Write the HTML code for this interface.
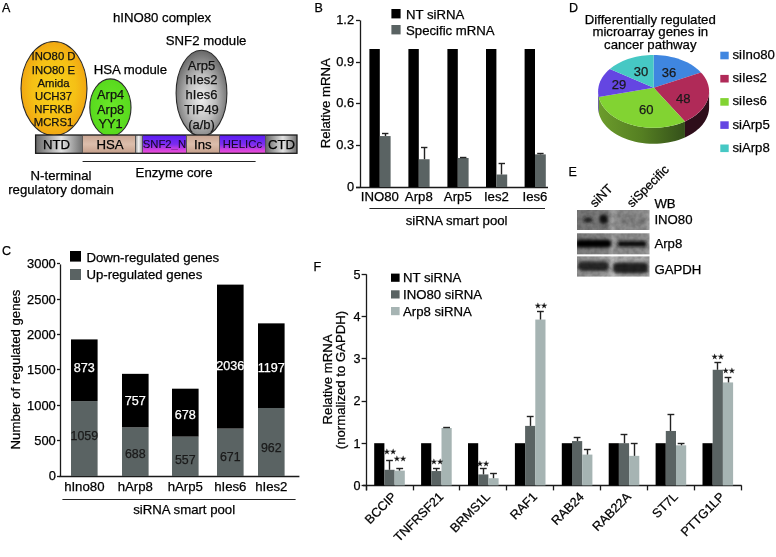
<!DOCTYPE html>
<html><head><meta charset="utf-8"><style>
html,body{margin:0;padding:0;background:#fff;}
svg{display:block;}
</style></head><body>
<svg width="776" height="557" viewBox="0 0 776 557" font-family='"Liberation Sans", sans-serif'>
<defs>
<radialGradient id="gOr" cx="50%" cy="50%" r="55%"><stop offset="0" stop-color="#f7d21c"/><stop offset="0.6" stop-color="#f5c015"/><stop offset="1" stop-color="#f0a012"/></radialGradient>
<radialGradient id="gGr" cx="50%" cy="50%" r="55%"><stop offset="0" stop-color="#6ae828"/><stop offset="1" stop-color="#56d81c"/></radialGradient>
<radialGradient id="gGy" cx="50%" cy="56%" r="56%"><stop offset="0" stop-color="#eeeeee"/><stop offset="0.5" stop-color="#bdbdbd"/><stop offset="1" stop-color="#666"/></radialGradient>
<linearGradient id="gBar" x1="0" y1="0" x2="1" y2="0"><stop offset="0" stop-color="#666"/><stop offset="0.55" stop-color="#e2e2e2"/><stop offset="1" stop-color="#707070"/></linearGradient>
<linearGradient id="gGap" x1="0" y1="0" x2="1" y2="0"><stop offset="0" stop-color="#8a8a8a"/><stop offset="0.5" stop-color="#f4f4f4"/><stop offset="1" stop-color="#9a9a9a"/></linearGradient>
<linearGradient id="gSnf" x1="0" y1="0" x2="0" y2="1"><stop offset="0" stop-color="#5a1cf4"/><stop offset="0.5" stop-color="#7a2cf0"/><stop offset="0.8" stop-color="#d040e0"/><stop offset="1" stop-color="#f052d4"/></linearGradient>
<linearGradient id="gTan" x1="0" y1="0" x2="0" y2="1"><stop offset="0" stop-color="#c9a592"/><stop offset="0.5" stop-color="#dcbeac"/><stop offset="1" stop-color="#c6a08c"/></linearGradient>
<filter id="blur1" x="-20%" y="-50%" width="140%" height="200%"><feGaussianBlur stdDeviation="1.2"/></filter>
<linearGradient id="side2" x1="0" y1="0" x2="1" y2="0"><stop offset="0" stop-color="#6c9c2c"/><stop offset="0.5" stop-color="#557f22"/><stop offset="1" stop-color="#34501a"/></linearGradient>
<filter id="blur2" x="-20%" y="-50%" width="140%" height="200%"><feGaussianBlur stdDeviation="0.8"/></filter>
</defs>
<rect width="776" height="557" fill="#fff"/>
<text x="2" y="12.2" font-size="12.5" text-anchor="start" fill="#000" stroke="#000" stroke-width="0.25" >A</text>
<text x="113" y="21.6" font-size="13.2" text-anchor="start" fill="#000" stroke="#000" stroke-width="0.25" >hINO80 complex</text>
<text x="165.8" y="45" font-size="13.2" text-anchor="start" fill="#000" stroke="#000" stroke-width="0.25" >SNF2 module</text>
<text x="93.8" y="74" font-size="13.2" text-anchor="start" fill="#000" stroke="#000" stroke-width="0.25" >HSA module</text>
<ellipse cx="54" cy="88.5" rx="33" ry="47" fill="url(#gOr)" stroke="#2a2a2a" stroke-width="1.1"/>
<ellipse cx="110.4" cy="107.5" rx="20.6" ry="28.6" fill="url(#gGr)" stroke="#2a2a2a" stroke-width="1.1"/>
<ellipse cx="201.5" cy="93.2" rx="25.4" ry="43" fill="url(#gGy)" stroke="#2a2a2a" stroke-width="1.1"/>
<text x="53.5" y="60.4" font-size="11.3" text-anchor="middle" fill="#111" stroke="#111" stroke-width="0.25" >INO80 D</text>
<text x="53.5" y="73.5" font-size="11.3" text-anchor="middle" fill="#111" stroke="#111" stroke-width="0.25" >INO80 E</text>
<text x="53.5" y="86.6" font-size="11.3" text-anchor="middle" fill="#111" stroke="#111" stroke-width="0.25" >Amida</text>
<text x="53.5" y="99.69999999999999" font-size="11.3" text-anchor="middle" fill="#111" stroke="#111" stroke-width="0.25" >UCH37</text>
<text x="53.5" y="112.8" font-size="11.3" text-anchor="middle" fill="#111" stroke="#111" stroke-width="0.25" >NFRKB</text>
<text x="53.5" y="125.9" font-size="11.3" text-anchor="middle" fill="#111" stroke="#111" stroke-width="0.25" >MCRS1</text>
<text x="110.6" y="99.0" font-size="12.8" text-anchor="middle" fill="#111" stroke="#111" stroke-width="0.25" >Arp4</text>
<text x="110.6" y="113.6" font-size="12.8" text-anchor="middle" fill="#111" stroke="#111" stroke-width="0.25" >Arp8</text>
<text x="110.6" y="128.2" font-size="12.8" text-anchor="middle" fill="#111" stroke="#111" stroke-width="0.25" >YY1</text>
<text x="201.5" y="69.6" font-size="13" text-anchor="middle" fill="#111" stroke="#111" stroke-width="0.25" >Arp5</text>
<text x="201.5" y="84.39999999999999" font-size="13" text-anchor="middle" fill="#111" stroke="#111" stroke-width="0.25" >hIes2</text>
<text x="201.5" y="99.19999999999999" font-size="13" text-anchor="middle" fill="#111" stroke="#111" stroke-width="0.25" >hIes6</text>
<text x="201.5" y="114.0" font-size="13" text-anchor="middle" fill="#111" stroke="#111" stroke-width="0.25" >TIP49</text>
<text x="201.5" y="128.8" font-size="13" text-anchor="middle" fill="#111" stroke="#111" stroke-width="0.25" >(a/b)</text>
<rect x="35.60" y="135.00" width="46.80" height="18.30" fill="url(#gBar)" />
<rect x="82.40" y="135.00" width="52.60" height="18.30" fill="url(#gTan)" />
<rect x="135.00" y="135.00" width="7.40" height="18.30" fill="url(#gGap)" />
<rect x="142.40" y="135.00" width="43.60" height="18.30" fill="url(#gSnf)" />
<rect x="186.00" y="135.00" width="33.60" height="18.30" fill="url(#gTan)" />
<rect x="219.60" y="135.00" width="46.00" height="18.30" fill="url(#gSnf)" />
<rect x="265.60" y="135.00" width="31.40" height="18.30" fill="url(#gBar)" />
<rect x="35.6" y="135" width="261.4" height="18.30000000000001" fill="none" stroke="#1a1a1a" stroke-width="1.3"/>
<line x1="82.50" y1="135.00" x2="82.50" y2="153.30" stroke="#444" stroke-width="0.8"/>
<line x1="135.50" y1="135.00" x2="135.50" y2="153.30" stroke="#444" stroke-width="0.8"/>
<line x1="142.50" y1="135.00" x2="142.50" y2="153.30" stroke="#444" stroke-width="0.8"/>
<line x1="186.50" y1="135.00" x2="186.50" y2="153.30" stroke="#444" stroke-width="0.8"/>
<line x1="219.50" y1="135.00" x2="219.50" y2="153.30" stroke="#444" stroke-width="0.8"/>
<line x1="265.50" y1="135.00" x2="265.50" y2="153.30" stroke="#444" stroke-width="0.8"/>
<text x="56.6" y="149" font-size="13.2" text-anchor="middle" fill="#000" stroke="#000" stroke-width="0.25" >NTD</text>
<text x="110" y="149" font-size="13.2" text-anchor="middle" fill="#000" stroke="#000" stroke-width="0.25" >HSA</text>
<text x="164.4" y="147.6" font-size="11.3" text-anchor="middle" fill="#180828" stroke="#180828" stroke-width="0.1" >SNF2<tspan fill-opacity="0.25" stroke-opacity="0.25">_</tspan>N</text>
<text x="202.8" y="149" font-size="13.2" text-anchor="middle" fill="#000" stroke="#000" stroke-width="0.25" >Ins</text>
<text x="242.6" y="147.6" font-size="11.3" text-anchor="middle" fill="#180828" stroke="#180828" stroke-width="0.1" letter-spacing="0.1">HELICc</text>
<text x="281.5" y="149" font-size="13.2" text-anchor="middle" fill="#000" stroke="#000" stroke-width="0.25" >CTD</text>
<line x1="82.60" y1="161.50" x2="255.60" y2="161.50" stroke="#222" stroke-width="1.1"/>
<text x="61" y="179.6" font-size="13.2" text-anchor="middle" fill="#000" stroke="#000" stroke-width="0.25" >N-terminal</text>
<text x="61" y="193.6" font-size="13.2" text-anchor="middle" fill="#000" stroke="#000" stroke-width="0.25" >regulatory domain</text>
<text x="135.6" y="177" font-size="13.2" text-anchor="start" fill="#000" stroke="#000" stroke-width="0.25" >Enzyme core</text>
<text x="314.6" y="11.7" font-size="12.5" text-anchor="start" fill="#000" stroke="#000" stroke-width="0.25" >B</text>
<line x1="360.50" y1="20.40" x2="360.50" y2="187.60" stroke="#1a1a1a" stroke-width="1.3"/>
<line x1="356.00" y1="187.50" x2="548.00" y2="187.50" stroke="#1a1a1a" stroke-width="1.3"/>
<line x1="356.00" y1="20.50" x2="360.00" y2="20.50" stroke="#1a1a1a" stroke-width="1.3"/>
<text x="354" y="24.139999999999997" font-size="12.8" text-anchor="end" fill="#000" stroke="#000" stroke-width="0.25" >1.2</text>
<line x1="356.00" y1="62.50" x2="360.00" y2="62.50" stroke="#1a1a1a" stroke-width="1.3"/>
<text x="354" y="65.77999999999999" font-size="12.8" text-anchor="end" fill="#000" stroke="#000" stroke-width="0.25" >0.9</text>
<line x1="356.00" y1="103.50" x2="360.00" y2="103.50" stroke="#1a1a1a" stroke-width="1.3"/>
<text x="354" y="107.42" font-size="12.8" text-anchor="end" fill="#000" stroke="#000" stroke-width="0.25" >0.6</text>
<line x1="356.00" y1="145.50" x2="360.00" y2="145.50" stroke="#1a1a1a" stroke-width="1.3"/>
<text x="354" y="149.06" font-size="12.8" text-anchor="end" fill="#000" stroke="#000" stroke-width="0.25" >0.3</text>
<line x1="356.00" y1="187.50" x2="360.00" y2="187.50" stroke="#1a1a1a" stroke-width="1.3"/>
<text x="354" y="190.7" font-size="12.8" text-anchor="end" fill="#000" stroke="#000" stroke-width="0.25" >0</text>
<rect x="391.40" y="9.00" width="9.20" height="9.40" fill="#000" />
<text x="406" y="19" font-size="13.2" text-anchor="start" fill="#000" stroke="#000" stroke-width="0.25" >NT siRNA</text>
<rect x="391.40" y="25.00" width="9.20" height="9.40" fill="#5a6363" />
<text x="406" y="35" font-size="13.2" text-anchor="start" fill="#000" stroke="#000" stroke-width="0.25" >Specific mRNA</text>
<rect x="369.40" y="49.00" width="10.40" height="138.00" fill="#000" />
<rect x="379.80" y="136.06" width="10.80" height="50.94" fill="#5a6363" />
<line x1="385.50" y1="136.06" x2="385.50" y2="133.56" stroke="#222" stroke-width="1.4"/>
<line x1="382.00" y1="133.50" x2="388.40" y2="133.50" stroke="#222" stroke-width="1.4"/>
<text x="379.79999999999995" y="201" font-size="13.2" text-anchor="middle" fill="#000" stroke="#000" stroke-width="0.25" >INO80</text>
<rect x="408.40" y="49.00" width="10.40" height="138.00" fill="#000" />
<rect x="418.80" y="159.24" width="10.80" height="27.76" fill="#5a6363" />
<line x1="424.50" y1="159.24" x2="424.50" y2="148.00" stroke="#222" stroke-width="1.4"/>
<line x1="421.00" y1="147.50" x2="427.40" y2="147.50" stroke="#222" stroke-width="1.4"/>
<text x="418.79999999999995" y="201" font-size="13.2" text-anchor="middle" fill="#000" stroke="#000" stroke-width="0.25" >Arp8</text>
<rect x="447.40" y="49.00" width="10.40" height="138.00" fill="#000" />
<rect x="457.80" y="157.99" width="10.80" height="29.01" fill="#5a6363" />
<line x1="463.50" y1="157.99" x2="463.50" y2="157.44" stroke="#222" stroke-width="1.4"/>
<line x1="460.00" y1="157.50" x2="466.40" y2="157.50" stroke="#222" stroke-width="1.4"/>
<text x="457.79999999999995" y="201" font-size="13.2" text-anchor="middle" fill="#000" stroke="#000" stroke-width="0.25" >Arp5</text>
<rect x="486.00" y="49.00" width="10.40" height="138.00" fill="#000" />
<rect x="496.40" y="174.51" width="10.80" height="12.49" fill="#5a6363" />
<line x1="501.50" y1="174.51" x2="501.50" y2="163.96" stroke="#222" stroke-width="1.4"/>
<line x1="498.60" y1="163.50" x2="505.00" y2="163.50" stroke="#222" stroke-width="1.4"/>
<text x="496.4" y="201" font-size="13.2" text-anchor="middle" fill="#000" stroke="#000" stroke-width="0.25" >Ies2</text>
<rect x="524.60" y="49.00" width="10.40" height="138.00" fill="#000" />
<rect x="535.00" y="154.38" width="10.80" height="32.62" fill="#5a6363" />
<line x1="540.50" y1="154.38" x2="540.50" y2="153.69" stroke="#222" stroke-width="1.4"/>
<line x1="537.20" y1="153.50" x2="543.60" y2="153.50" stroke="#222" stroke-width="1.4"/>
<text x="535.0" y="201" font-size="13.2" text-anchor="middle" fill="#000" stroke="#000" stroke-width="0.25" >Ies6</text>
<line x1="369.40" y1="208.50" x2="545.00" y2="208.50" stroke="#222" stroke-width="1.1"/>
<text x="456.6" y="224.8" font-size="13.2" text-anchor="middle" fill="#000" stroke="#000" stroke-width="0.25" >siRNA smart pool</text>
<text x="0" y="0" font-size="13.2" text-anchor="middle" fill="#000" stroke="#000" stroke-width="0.25" transform="translate(330.2,103.2) rotate(-90)">Relative mRNA</text>
<text x="2" y="254.5" font-size="12.5" text-anchor="start" fill="#000" stroke="#000" stroke-width="0.25" >C</text>
<line x1="60.50" y1="264.40" x2="60.50" y2="476.60" stroke="#1a1a1a" stroke-width="1.3"/>
<line x1="59.40" y1="476.50" x2="299.40" y2="476.50" stroke="#1a1a1a" stroke-width="1.3"/>
<line x1="57.00" y1="476.50" x2="60.00" y2="476.50" stroke="#1a1a1a" stroke-width="1.3"/>
<text x="55.8" y="480.3" font-size="12.9" text-anchor="end" fill="#000" stroke="#000" stroke-width="0.25" >0</text>
<line x1="57.00" y1="440.50" x2="60.00" y2="440.50" stroke="#1a1a1a" stroke-width="1.3"/>
<text x="55.8" y="444.95" font-size="12.9" text-anchor="end" fill="#000" stroke="#000" stroke-width="0.25" >500</text>
<line x1="57.00" y1="405.50" x2="60.00" y2="405.50" stroke="#1a1a1a" stroke-width="1.3"/>
<text x="55.8" y="409.59999999999997" font-size="12.9" text-anchor="end" fill="#000" stroke="#000" stroke-width="0.25" >1000</text>
<line x1="57.00" y1="369.50" x2="60.00" y2="369.50" stroke="#1a1a1a" stroke-width="1.3"/>
<text x="55.8" y="374.25" font-size="12.9" text-anchor="end" fill="#000" stroke="#000" stroke-width="0.25" >1500</text>
<line x1="57.00" y1="334.50" x2="60.00" y2="334.50" stroke="#1a1a1a" stroke-width="1.3"/>
<text x="55.8" y="338.9" font-size="12.9" text-anchor="end" fill="#000" stroke="#000" stroke-width="0.25" >2000</text>
<line x1="57.00" y1="299.50" x2="60.00" y2="299.50" stroke="#1a1a1a" stroke-width="1.3"/>
<text x="55.8" y="303.55" font-size="12.9" text-anchor="end" fill="#000" stroke="#000" stroke-width="0.25" >2500</text>
<line x1="57.00" y1="263.50" x2="60.00" y2="263.50" stroke="#1a1a1a" stroke-width="1.3"/>
<text x="55.8" y="268.2" font-size="12.9" text-anchor="end" fill="#000" stroke="#000" stroke-width="0.25" >3000</text>
<rect x="70.00" y="251.00" width="11.00" height="10.60" fill="#000" />
<text x="86.4" y="261.6" font-size="13.2" text-anchor="start" fill="#000" stroke="#000" stroke-width="0.25" >Down-regulated genes</text>
<rect x="70.00" y="269.00" width="11.00" height="11.00" fill="#5a6363" />
<text x="86.4" y="279" font-size="13.2" text-anchor="start" fill="#000" stroke="#000" stroke-width="0.25" >Up-regulated genes</text>
<rect x="71.00" y="401.13" width="26.60" height="74.87" fill="#5a6363" />
<rect x="71.00" y="339.41" width="26.60" height="61.72" fill="#000" />
<text x="84.3" y="440" font-size="12.4" text-anchor="middle" fill="#1a1a1a" stroke="#1a1a1a" stroke-width="0.25" >1059</text>
<text x="84.3" y="372" font-size="12.6" text-anchor="middle" fill="#fff" stroke="#fff" stroke-width="0.25" >873</text>
<text x="84.3" y="491" font-size="13.2" text-anchor="middle" fill="#000" stroke="#000" stroke-width="0.25" >hIno80</text>
<rect x="122.00" y="427.36" width="26.60" height="48.64" fill="#5a6363" />
<rect x="122.00" y="373.84" width="26.60" height="53.52" fill="#000" />
<text x="135.3" y="458.4" font-size="12.4" text-anchor="middle" fill="#1a1a1a" stroke="#1a1a1a" stroke-width="0.25" >688</text>
<text x="135.3" y="405" font-size="12.6" text-anchor="middle" fill="#fff" stroke="#fff" stroke-width="0.25" >757</text>
<text x="135.3" y="491" font-size="13.2" text-anchor="middle" fill="#000" stroke="#000" stroke-width="0.25" >hArp8</text>
<rect x="172.00" y="436.62" width="26.60" height="39.38" fill="#5a6363" />
<rect x="172.00" y="388.69" width="26.60" height="47.93" fill="#000" />
<text x="185.3" y="463.6" font-size="12.4" text-anchor="middle" fill="#1a1a1a" stroke="#1a1a1a" stroke-width="0.25" >557</text>
<text x="185.3" y="418.6" font-size="12.6" text-anchor="middle" fill="#fff" stroke="#fff" stroke-width="0.25" >678</text>
<text x="185.3" y="491" font-size="13.2" text-anchor="middle" fill="#000" stroke="#000" stroke-width="0.25" >hArp5</text>
<rect x="217.00" y="428.56" width="26.60" height="47.44" fill="#5a6363" />
<rect x="217.00" y="284.62" width="26.60" height="143.95" fill="#000" />
<text x="230.3" y="461" font-size="12.4" text-anchor="middle" fill="#1a1a1a" stroke="#1a1a1a" stroke-width="0.25" >671</text>
<text x="230.3" y="369.6" font-size="12.6" text-anchor="middle" fill="#fff" stroke="#fff" stroke-width="0.25" >2036</text>
<text x="230.3" y="491" font-size="13.2" text-anchor="middle" fill="#000" stroke="#000" stroke-width="0.25" >hIes6</text>
<rect x="258.00" y="407.99" width="26.60" height="68.01" fill="#5a6363" />
<rect x="258.00" y="323.36" width="26.60" height="84.63" fill="#000" />
<text x="271.3" y="452.4" font-size="12.4" text-anchor="middle" fill="#1a1a1a" stroke="#1a1a1a" stroke-width="0.25" >962</text>
<text x="271.3" y="371.6" font-size="12.6" text-anchor="middle" fill="#fff" stroke="#fff" stroke-width="0.25" >1197</text>
<text x="271.3" y="491" font-size="13.2" text-anchor="middle" fill="#000" stroke="#000" stroke-width="0.25" >hIes2</text>
<line x1="62.40" y1="499.50" x2="295.60" y2="499.50" stroke="#222" stroke-width="1.1"/>
<text x="184.2" y="514" font-size="13.2" text-anchor="middle" fill="#000" stroke="#000" stroke-width="0.25" >siRNA smart pool</text>
<text x="0" y="0" font-size="13.2" text-anchor="middle" fill="#000" stroke="#000" stroke-width="0.25" transform="translate(20,369.5) rotate(-90)">Number of regulated genes</text>
<text x="569" y="11.7" font-size="12.5" text-anchor="start" fill="#000" stroke="#000" stroke-width="0.25" >D</text>
<text x="650.3" y="23.5" font-size="13.2" text-anchor="middle" fill="#000" stroke="#000" stroke-width="0.25" >Differentially regulated</text>
<text x="650.3" y="36.2" font-size="13.2" text-anchor="middle" fill="#000" stroke="#000" stroke-width="0.25" >microarray genes in</text>
<text x="650.3" y="48.8" font-size="13.2" text-anchor="middle" fill="#000" stroke="#000" stroke-width="0.25" >cancer pathway</text>
<path d="M709.10,91.40 L709.07,92.58 L708.98,93.75 L708.84,94.93 L708.64,96.10 L708.38,97.26 L708.06,98.42 L707.68,99.57 L707.25,100.71 L706.76,101.85 L706.22,102.97 L705.62,104.08 L704.97,105.18 L704.26,106.26 L703.51,107.33 L702.69,108.38 L701.83,109.41 L700.92,110.42 L699.96,111.42 L698.94,112.39 L697.89,113.34 L696.78,114.27 L695.63,115.17 L694.44,116.05 L693.20,116.90 L691.92,117.73 L690.60,118.53 L689.25,119.30 L687.85,120.04 L686.42,120.75 L684.96,121.43 L684.96,137.43 L686.42,136.75 L687.85,136.04 L689.25,135.30 L690.60,134.53 L691.92,133.73 L693.20,132.90 L694.44,132.05 L695.63,131.17 L696.78,130.27 L697.89,129.34 L698.94,128.39 L699.96,127.42 L700.92,126.42 L701.83,125.41 L702.69,124.38 L703.51,123.33 L704.26,122.26 L704.97,121.18 L705.62,120.08 L706.22,118.97 L706.76,117.85 L707.25,116.71 L707.68,115.57 L708.06,114.42 L708.38,113.26 L708.64,112.10 L708.84,110.93 L708.98,109.75 L709.07,108.58 L709.10,107.40Z" fill="#2e0e1a"/>
<path d="M684.96,121.43 L681.81,122.75 L678.54,123.92 L675.16,124.94 L671.68,125.81 L668.12,126.53 L664.49,127.09 L660.82,127.49 L657.11,127.73 L653.39,127.80 L649.66,127.71 L645.96,127.45 L642.29,127.04 L638.67,126.46 L635.12,125.72 L631.65,124.83 L628.28,123.79 L625.02,122.60 L621.89,121.28 L618.91,119.81 L616.08,118.22 L613.42,116.51 L610.94,114.69 L608.66,112.76 L606.57,110.73 L604.70,108.62 L603.05,106.43 L601.63,104.17 L600.44,101.86 L599.49,99.49 L598.78,97.09 L598.78,113.09 L599.49,115.49 L600.44,117.86 L601.63,120.17 L603.05,122.43 L604.70,124.62 L606.57,126.73 L608.66,128.76 L610.94,130.69 L613.42,132.51 L616.08,134.22 L618.91,135.81 L621.89,137.28 L625.02,138.60 L628.28,139.79 L631.65,140.83 L635.12,141.72 L638.67,142.46 L642.29,143.04 L645.96,143.45 L649.66,143.71 L653.39,143.80 L657.11,143.73 L660.82,143.49 L664.49,143.09 L668.12,142.53 L671.68,141.81 L675.16,140.94 L678.54,139.92 L681.81,138.75 L684.96,137.43Z" fill="url(#side2)"/>
<path d="M598.78,97.09 L598.74,96.91 L598.70,96.72 L598.65,96.53 L598.61,96.34 L598.57,96.15 L598.54,95.96 L598.50,95.77 L598.47,95.58 L598.44,95.39 L598.40,95.20 L598.37,95.02 L598.35,94.83 L598.32,94.64 L598.29,94.45 L598.27,94.26 L598.25,94.07 L598.23,93.88 L598.21,93.69 L598.19,93.50 L598.18,93.31 L598.16,93.11 L598.15,92.92 L598.14,92.73 L598.13,92.54 L598.12,92.35 L598.11,92.16 L598.11,91.97 L598.10,91.78 L598.10,91.59 L598.10,91.40 L598.10,107.40 L598.10,107.59 L598.10,107.78 L598.11,107.97 L598.11,108.16 L598.12,108.35 L598.13,108.54 L598.14,108.73 L598.15,108.92 L598.16,109.11 L598.18,109.31 L598.19,109.50 L598.21,109.69 L598.23,109.88 L598.25,110.07 L598.27,110.26 L598.29,110.45 L598.32,110.64 L598.35,110.83 L598.37,111.02 L598.40,111.20 L598.44,111.39 L598.47,111.58 L598.50,111.77 L598.54,111.96 L598.57,112.15 L598.61,112.34 L598.65,112.53 L598.70,112.72 L598.74,112.91 L598.78,113.09Z" fill="#3a2a8a"/>
<path d="M653.7,87.8 L653.60,55.00 L656.58,55.05 L659.55,55.21 L662.51,55.47 L665.44,55.84 L668.33,56.31 L671.19,56.88 L673.99,57.55 L676.73,58.31 L679.41,59.17 L682.01,60.13 L684.53,61.18 L686.96,62.31 L689.29,63.53 L691.53,64.82 L693.65,66.20 L695.65,67.65 L697.54,69.16 L699.30,70.74 L700.92,72.38Z" fill="#3f86e0"/>
<path d="M653.7,87.8 L700.92,72.38 L702.38,74.03 L703.70,75.73 L704.88,77.48 L705.92,79.26 L706.82,81.07 L707.57,82.92 L708.17,84.78 L708.63,86.67 L708.93,88.56 L709.08,90.47 L709.08,92.38 L708.93,94.28 L708.62,96.18 L708.16,98.06 L707.55,99.93 L706.80,101.77 L705.90,103.59 L704.85,105.37 L703.67,107.11 L702.34,108.81 L700.88,110.46 L699.30,112.06 L697.58,113.60 L695.75,115.08 L693.80,116.50 L691.74,117.84 L689.58,119.12 L687.31,120.32 L684.96,121.43Z" fill="#b02a58"/>
<path d="M653.7,87.8 L684.96,121.43 L682.49,122.48 L679.93,123.44 L677.31,124.31 L674.62,125.09 L671.87,125.77 L669.06,126.36 L666.22,126.85 L663.34,127.24 L660.43,127.52 L657.50,127.71 L654.56,127.79 L651.62,127.78 L648.69,127.66 L645.76,127.44 L642.87,127.11 L640.00,126.69 L637.16,126.17 L634.38,125.55 L631.65,124.83 L628.98,124.02 L626.38,123.12 L623.85,122.13 L621.41,121.05 L619.06,119.89 L616.81,118.65 L614.66,117.34 L612.62,115.95 L610.69,114.49 L608.89,112.97 L607.21,111.38 L605.66,109.74 L604.25,108.05 L602.97,106.31 L601.84,104.53 L600.85,102.71 L600.01,100.87 L599.32,98.99 L598.78,97.09Z" fill="#82d332"/>
<path d="M653.7,87.8 L598.78,97.09 L598.39,95.12 L598.16,93.14 L598.10,91.15 L598.21,89.16 L598.48,87.17 L598.91,85.20 L599.51,83.25 L600.27,81.33 L601.19,79.43 L602.26,77.57 L603.49,75.75 L604.87,73.98 L606.40,72.25 L608.06,70.59 L609.87,68.99Z" fill="#6446e2"/>
<path d="M653.7,87.8 L609.87,68.99 L611.75,67.49 L613.76,66.06 L615.87,64.70 L618.10,63.42 L620.43,62.22 L622.85,61.10 L625.36,60.07 L627.95,59.12 L630.61,58.27 L633.34,57.51 L636.12,56.85 L638.96,56.29 L641.84,55.83 L644.75,55.47 L647.69,55.21 L650.64,55.05 L653.60,55.00Z" fill="#46c8c4"/>
<text x="641" y="75.5" font-size="13" text-anchor="middle" fill="#1a1a1a" stroke="#1a1a1a" stroke-width="0.25" >30</text>
<text x="669" y="77.0" font-size="13" text-anchor="middle" fill="#1a1a1a" stroke="#1a1a1a" stroke-width="0.25" >36</text>
<text x="619" y="88.5" font-size="13" text-anchor="middle" fill="#1a1a1a" stroke="#1a1a1a" stroke-width="0.25" >29</text>
<text x="683.2" y="103.0" font-size="13" text-anchor="middle" fill="#1a1a1a" stroke="#1a1a1a" stroke-width="0.25" >48</text>
<text x="646.3" y="113.7" font-size="13" text-anchor="middle" fill="#1a1a1a" stroke="#1a1a1a" stroke-width="0.25" >60</text>
<rect x="720.30" y="51.70" width="8.40" height="7.60" fill="#3f86e0" />
<text x="732.4" y="58.9" font-size="13.2" text-anchor="start" fill="#000" stroke="#000" stroke-width="0.25" >siIno80</text>
<rect x="720.30" y="74.90" width="8.40" height="7.60" fill="#b02a58" />
<text x="732.4" y="82.1" font-size="13.2" text-anchor="start" fill="#000" stroke="#000" stroke-width="0.25" >siIes2</text>
<rect x="720.30" y="98.10" width="8.40" height="7.60" fill="#82d332" />
<text x="732.4" y="105.3" font-size="13.2" text-anchor="start" fill="#000" stroke="#000" stroke-width="0.25" >siIes6</text>
<rect x="720.30" y="121.30" width="8.40" height="7.60" fill="#6446e2" />
<text x="732.4" y="128.5" font-size="13.2" text-anchor="start" fill="#000" stroke="#000" stroke-width="0.25" >siArp5</text>
<rect x="720.30" y="144.50" width="8.40" height="7.60" fill="#46c8c4" />
<text x="732.4" y="151.7" font-size="13.2" text-anchor="start" fill="#000" stroke="#000" stroke-width="0.25" >siArp8</text>
<text x="568.4" y="175.6" font-size="12.5" text-anchor="start" fill="#000" stroke="#000" stroke-width="0.25" >E</text>
<filter id="bb" x="-50%" y="-80%" width="200%" height="260%"><feGaussianBlur stdDeviation="1.5"/></filter>
<filter id="bb2" x="-50%" y="-80%" width="200%" height="260%"><feGaussianBlur stdDeviation="2.2"/></filter>
<filter id="noise" x="0" y="0" width="100%" height="100%"><feTurbulence type="fractalNoise" baseFrequency="0.22" numOctaves="2" seed="7" result="t"/><feColorMatrix type="matrix" values="0 0 0 0 0  0 0 0 0 0  0 0 0 0 0  0 0 0 -1.6 1.1"/><feComposite in2="SourceGraphic" operator="in"/></filter>
<linearGradient id="blg" x1="0" y1="0" x2="1" y2="0"><stop offset="0" stop-color="#7c7c7c"/><stop offset="0.42" stop-color="#858585"/><stop offset="0.49" stop-color="#a2a2a2"/><stop offset="0.56" stop-color="#8e8e8e"/><stop offset="0.93" stop-color="#8e8e8e"/><stop offset="1" stop-color="#a6a6a6"/></linearGradient>
<linearGradient id="blg3" x1="0" y1="0" x2="1" y2="0"><stop offset="0" stop-color="#929292"/><stop offset="0.44" stop-color="#a4a4a4"/><stop offset="0.5" stop-color="#bcbcbc"/><stop offset="0.56" stop-color="#aaaaaa"/><stop offset="1" stop-color="#a8a8a8"/></linearGradient>
<clipPath id="c1"><rect x="577" y="210" width="72.5" height="20"/></clipPath>
<clipPath id="c2"><rect x="577" y="233.3" width="72.5" height="21"/></clipPath>
<clipPath id="c3"><rect x="577" y="256.4" width="72.5" height="20.2"/></clipPath>
<rect x="577" y="210" width="72.5" height="20" fill="url(#blg)"/>
<g clip-path="url(#c1)">
<rect x="577" y="210" width="33" height="20" fill="#6a6a6a" opacity="0.35" filter="url(#bb2)"/>
<ellipse cx="588" cy="220" rx="4.2" ry="2.4" fill="#1e1e1e" filter="url(#bb)"/>
<ellipse cx="603.6" cy="219.3" rx="3.9" ry="4.3" fill="#050505" filter="url(#bb)"/>
<ellipse cx="603.5" cy="222" rx="2.2" ry="9" fill="#3a3a3a" filter="url(#bb2)" opacity="0.5"/>
<ellipse cx="624" cy="221" rx="3.5" ry="2.4" fill="#555" filter="url(#bb)" opacity="0.55"/>
<ellipse cx="632" cy="220" rx="3" ry="2.4" fill="#555" filter="url(#bb)" opacity="0.45"/>
<ellipse cx="641" cy="221" rx="3.5" ry="2.4" fill="#555" filter="url(#bb)" opacity="0.55"/>
</g>
<rect x="577" y="233.3" width="72.5" height="21" fill="url(#blg)"/>
<g clip-path="url(#c2)">
<rect x="576" y="239.8" width="35" height="7.6" rx="3.5" fill="#050505" filter="url(#bb)"/>
<rect x="617.5" y="241" width="29" height="5.8" rx="2.9" fill="#111" filter="url(#bb)"/>
</g>
<rect x="577" y="256.4" width="72.5" height="20.2" fill="url(#blg3)"/>
<g clip-path="url(#c3)">
<rect x="578" y="261.5" width="31" height="9.4" rx="4.5" fill="#262626" filter="url(#bb)"/>
<path d="M613,265 Q613,262.5 620,262.5 L644,262.5 Q648,262.5 648,267 L648,270 Q648,273.5 640,273.5 L622,273.5 Q613,273.5 613,270 Z" fill="#242424" filter="url(#bb)"/>
</g>
<g opacity="0.2"><rect x="577" y="210" width="72.5" height="20" fill="#000" filter="url(#noise)"/><rect x="577" y="233.3" width="72.5" height="21" fill="#000" filter="url(#noise)"/><rect x="577" y="256.4" width="72.5" height="20.2" fill="#000" filter="url(#noise)"/></g>
<text x="654.4" y="208" font-size="13.2" text-anchor="start" fill="#000" stroke="#000" stroke-width="0.25" >WB</text>
<text x="654.4" y="224" font-size="13.2" text-anchor="start" fill="#000" stroke="#000" stroke-width="0.25" >INO80</text>
<text x="654.4" y="247.6" font-size="13.2" text-anchor="start" fill="#000" stroke="#000" stroke-width="0.25" >Arp8</text>
<text x="654.4" y="273.6" font-size="13.2" text-anchor="start" fill="#000" stroke="#000" stroke-width="0.25" >GAPDH</text>
<text x="0" y="0" font-size="12.8" text-anchor="start" fill="#000" stroke="#000" stroke-width="0.25" transform="translate(595,208) rotate(-45)">siNT</text>
<text x="0" y="0" font-size="12.6" text-anchor="start" fill="#000" stroke="#000" stroke-width="0.25" transform="translate(632,208) rotate(-45)">siSpecific</text>
<text x="313.6" y="270.5" font-size="12.5" text-anchor="start" fill="#000" stroke="#000" stroke-width="0.25" >F</text>
<line x1="366.50" y1="274.40" x2="366.50" y2="490.40" stroke="#1a1a1a" stroke-width="1.3"/>
<line x1="363.00" y1="485.50" x2="741.60" y2="485.50" stroke="#1a1a1a" stroke-width="1.3"/>
<line x1="366.50" y1="485.40" x2="366.50" y2="490.40" stroke="#1a1a1a" stroke-width="1.3"/>
<line x1="413.50" y1="485.40" x2="413.50" y2="490.40" stroke="#1a1a1a" stroke-width="1.3"/>
<line x1="459.50" y1="485.40" x2="459.50" y2="490.40" stroke="#1a1a1a" stroke-width="1.3"/>
<line x1="506.50" y1="485.40" x2="506.50" y2="490.40" stroke="#1a1a1a" stroke-width="1.3"/>
<line x1="553.50" y1="485.40" x2="553.50" y2="490.40" stroke="#1a1a1a" stroke-width="1.3"/>
<line x1="600.50" y1="485.40" x2="600.50" y2="490.40" stroke="#1a1a1a" stroke-width="1.3"/>
<line x1="647.50" y1="485.40" x2="647.50" y2="490.40" stroke="#1a1a1a" stroke-width="1.3"/>
<line x1="694.50" y1="485.40" x2="694.50" y2="490.40" stroke="#1a1a1a" stroke-width="1.3"/>
<line x1="741.50" y1="485.40" x2="741.50" y2="490.40" stroke="#1a1a1a" stroke-width="1.3"/>
<line x1="361.60" y1="485.50" x2="366.60" y2="485.50" stroke="#1a1a1a" stroke-width="1.3"/>
<text x="360.4" y="489.79999999999995" font-size="12.6" text-anchor="end" fill="#000" stroke="#000" stroke-width="0.25" >0</text>
<line x1="361.60" y1="443.50" x2="366.60" y2="443.50" stroke="#1a1a1a" stroke-width="1.3"/>
<text x="360.4" y="447.59999999999997" font-size="12.6" text-anchor="end" fill="#000" stroke="#000" stroke-width="0.25" >1</text>
<line x1="361.60" y1="401.50" x2="366.60" y2="401.50" stroke="#1a1a1a" stroke-width="1.3"/>
<text x="360.4" y="405.4" font-size="12.6" text-anchor="end" fill="#000" stroke="#000" stroke-width="0.25" >2</text>
<line x1="361.60" y1="358.50" x2="366.60" y2="358.50" stroke="#1a1a1a" stroke-width="1.3"/>
<text x="360.4" y="363.19999999999993" font-size="12.6" text-anchor="end" fill="#000" stroke="#000" stroke-width="0.25" >3</text>
<line x1="361.60" y1="316.50" x2="366.60" y2="316.50" stroke="#1a1a1a" stroke-width="1.3"/>
<text x="360.4" y="320.99999999999994" font-size="12.6" text-anchor="end" fill="#000" stroke="#000" stroke-width="0.25" >4</text>
<line x1="361.60" y1="274.50" x2="366.60" y2="274.50" stroke="#1a1a1a" stroke-width="1.3"/>
<text x="360.4" y="278.79999999999995" font-size="12.6" text-anchor="end" fill="#000" stroke="#000" stroke-width="0.25" >5</text>
<rect x="391.00" y="273.60" width="8.60" height="8.20" fill="#000" />
<text x="403" y="282.40000000000003" font-size="13.2" text-anchor="start" fill="#000" stroke="#000" stroke-width="0.25" >NT siRNA</text>
<rect x="391.00" y="290.30" width="8.60" height="8.20" fill="#5a6363" />
<text x="403" y="299.1" font-size="13.2" text-anchor="start" fill="#000" stroke="#000" stroke-width="0.25" >INO80 siRNA</text>
<rect x="391.00" y="307.00" width="8.60" height="8.20" fill="#a6b4b3" />
<text x="403" y="315.8" font-size="13.2" text-anchor="start" fill="#000" stroke="#000" stroke-width="0.25" >Arp8 siRNA</text>
<rect x="374.20" y="443.20" width="10.20" height="42.20" fill="#000" />
<rect x="384.40" y="469.79" width="10.20" height="15.61" fill="#5a6363" />
<line x1="389.50" y1="469.79" x2="389.50" y2="460.50" stroke="#222" stroke-width="1.4"/>
<line x1="386.10" y1="460.50" x2="392.90" y2="460.50" stroke="#222" stroke-width="1.4"/>
<rect x="394.60" y="470.63" width="10.20" height="14.77" fill="#a6b4b3" />
<line x1="399.50" y1="470.63" x2="399.50" y2="468.10" stroke="#222" stroke-width="1.4"/>
<line x1="396.30" y1="468.50" x2="403.10" y2="468.50" stroke="#222" stroke-width="1.4"/>
<text x="0" y="0" font-size="12.6" text-anchor="end" fill="#000" stroke="#000" stroke-width="0.25" transform="translate(397.2,497.5) rotate(-45)">BCCIP</text>
<rect x="421.10" y="443.20" width="10.20" height="42.20" fill="#000" />
<rect x="431.30" y="471.05" width="10.20" height="14.35" fill="#5a6363" />
<line x1="436.50" y1="471.05" x2="436.50" y2="468.10" stroke="#222" stroke-width="1.4"/>
<line x1="433.00" y1="468.50" x2="439.80" y2="468.50" stroke="#222" stroke-width="1.4"/>
<rect x="441.50" y="428.01" width="10.20" height="57.39" fill="#a6b4b3" />
<line x1="446.50" y1="428.01" x2="446.50" y2="427.16" stroke="#222" stroke-width="1.4"/>
<line x1="443.20" y1="427.50" x2="450.00" y2="427.50" stroke="#222" stroke-width="1.4"/>
<text x="0" y="0" font-size="12.6" text-anchor="end" fill="#000" stroke="#000" stroke-width="0.25" transform="translate(444.1,497.5) rotate(-45)">TNFRSF21</text>
<rect x="468.00" y="443.20" width="10.20" height="42.20" fill="#000" />
<rect x="478.20" y="474.43" width="10.20" height="10.97" fill="#5a6363" />
<line x1="483.50" y1="474.43" x2="483.50" y2="468.10" stroke="#222" stroke-width="1.4"/>
<line x1="479.90" y1="468.50" x2="486.70" y2="468.50" stroke="#222" stroke-width="1.4"/>
<rect x="488.40" y="478.23" width="10.20" height="7.17" fill="#a6b4b3" />
<line x1="493.50" y1="478.23" x2="493.50" y2="473.16" stroke="#222" stroke-width="1.4"/>
<line x1="490.10" y1="473.50" x2="496.90" y2="473.50" stroke="#222" stroke-width="1.4"/>
<text x="0" y="0" font-size="12.6" text-anchor="end" fill="#000" stroke="#000" stroke-width="0.25" transform="translate(491.0,497.5) rotate(-45)">BRMS1L</text>
<rect x="514.90" y="443.20" width="10.20" height="42.20" fill="#000" />
<rect x="525.10" y="425.90" width="10.20" height="59.50" fill="#5a6363" />
<line x1="530.50" y1="425.90" x2="530.50" y2="416.61" stroke="#222" stroke-width="1.4"/>
<line x1="526.80" y1="416.50" x2="533.60" y2="416.50" stroke="#222" stroke-width="1.4"/>
<rect x="535.30" y="319.55" width="10.20" height="165.85" fill="#a6b4b3" />
<line x1="540.50" y1="319.55" x2="540.50" y2="311.54" stroke="#222" stroke-width="1.4"/>
<line x1="537.00" y1="311.50" x2="543.80" y2="311.50" stroke="#222" stroke-width="1.4"/>
<text x="0" y="0" font-size="12.6" text-anchor="end" fill="#000" stroke="#000" stroke-width="0.25" transform="translate(537.9,497.5) rotate(-45)">RAF1</text>
<rect x="561.80" y="443.20" width="10.20" height="42.20" fill="#000" />
<rect x="572.00" y="441.09" width="10.20" height="44.31" fill="#5a6363" />
<line x1="577.50" y1="441.09" x2="577.50" y2="437.29" stroke="#222" stroke-width="1.4"/>
<line x1="573.70" y1="437.50" x2="580.50" y2="437.50" stroke="#222" stroke-width="1.4"/>
<rect x="582.20" y="454.59" width="10.20" height="30.81" fill="#a6b4b3" />
<line x1="587.50" y1="454.59" x2="587.50" y2="449.53" stroke="#222" stroke-width="1.4"/>
<line x1="583.90" y1="449.50" x2="590.70" y2="449.50" stroke="#222" stroke-width="1.4"/>
<text x="0" y="0" font-size="12.6" text-anchor="end" fill="#000" stroke="#000" stroke-width="0.25" transform="translate(584.8,497.5) rotate(-45)">RAB24</text>
<rect x="608.70" y="443.20" width="10.20" height="42.20" fill="#000" />
<rect x="618.90" y="443.20" width="10.20" height="42.20" fill="#5a6363" />
<line x1="624.50" y1="443.20" x2="624.50" y2="434.76" stroke="#222" stroke-width="1.4"/>
<line x1="620.60" y1="434.50" x2="627.40" y2="434.50" stroke="#222" stroke-width="1.4"/>
<rect x="629.10" y="455.86" width="10.20" height="29.54" fill="#a6b4b3" />
<line x1="634.50" y1="455.86" x2="634.50" y2="443.62" stroke="#222" stroke-width="1.4"/>
<line x1="630.80" y1="443.50" x2="637.60" y2="443.50" stroke="#222" stroke-width="1.4"/>
<text x="0" y="0" font-size="12.6" text-anchor="end" fill="#000" stroke="#000" stroke-width="0.25" transform="translate(631.7,497.5) rotate(-45)">RAB22A</text>
<rect x="655.60" y="443.20" width="10.20" height="42.20" fill="#000" />
<rect x="665.80" y="430.96" width="10.20" height="54.44" fill="#5a6363" />
<line x1="670.50" y1="430.96" x2="670.50" y2="414.08" stroke="#222" stroke-width="1.4"/>
<line x1="667.50" y1="414.50" x2="674.30" y2="414.50" stroke="#222" stroke-width="1.4"/>
<rect x="676.00" y="445.31" width="10.20" height="40.09" fill="#a6b4b3" />
<line x1="681.50" y1="445.31" x2="681.50" y2="443.20" stroke="#222" stroke-width="1.4"/>
<line x1="677.70" y1="443.50" x2="684.50" y2="443.50" stroke="#222" stroke-width="1.4"/>
<text x="0" y="0" font-size="12.6" text-anchor="end" fill="#000" stroke="#000" stroke-width="0.25" transform="translate(678.6,497.5) rotate(-45)">ST7L</text>
<rect x="702.50" y="443.20" width="10.20" height="42.20" fill="#000" />
<rect x="712.70" y="369.77" width="10.20" height="115.63" fill="#5a6363" />
<line x1="717.50" y1="369.77" x2="717.50" y2="362.18" stroke="#222" stroke-width="1.4"/>
<line x1="714.40" y1="362.50" x2="721.20" y2="362.50" stroke="#222" stroke-width="1.4"/>
<rect x="722.90" y="382.43" width="10.20" height="102.97" fill="#a6b4b3" />
<line x1="728.50" y1="382.43" x2="728.50" y2="377.79" stroke="#222" stroke-width="1.4"/>
<line x1="724.60" y1="377.50" x2="731.40" y2="377.50" stroke="#222" stroke-width="1.4"/>
<text x="0" y="0" font-size="12.6" text-anchor="end" fill="#000" stroke="#000" stroke-width="0.25" transform="translate(725.5,497.5) rotate(-45)">PTTG1LP</text>
<text x="390" y="454" font-family="DejaVu Sans, sans-serif" font-size="7" text-anchor="middle" fill="#111" stroke="#111" stroke-width="0.3">★★</text>
<text x="400" y="461" font-family="DejaVu Sans, sans-serif" font-size="7" text-anchor="middle" fill="#111" stroke="#111" stroke-width="0.3">★★</text>
<text x="437" y="463.6" font-family="DejaVu Sans, sans-serif" font-size="7" text-anchor="middle" fill="#111" stroke="#111" stroke-width="0.3">★★</text>
<text x="483" y="466.4" font-family="DejaVu Sans, sans-serif" font-size="7" text-anchor="middle" fill="#111" stroke="#111" stroke-width="0.3">★★</text>
<text x="541" y="308" font-family="DejaVu Sans, sans-serif" font-size="7" text-anchor="middle" fill="#111" stroke="#111" stroke-width="0.3">★★</text>
<text x="717.8" y="359" font-family="DejaVu Sans, sans-serif" font-size="7" text-anchor="middle" fill="#111" stroke="#111" stroke-width="0.3">★★</text>
<text x="728.8" y="372.8" font-family="DejaVu Sans, sans-serif" font-size="7" text-anchor="middle" fill="#111" stroke="#111" stroke-width="0.3">★★</text>
<text x="0" y="0" font-size="13.2" text-anchor="middle" fill="#000" stroke="#000" stroke-width="0.25" transform="translate(332.4,379.4) rotate(-90)">Relative mRNA</text>
<text x="0" y="0" font-size="13.2" text-anchor="middle" fill="#000" stroke="#000" stroke-width="0.25" transform="translate(345.4,380) rotate(-90)">(normalized to GAPDH)</text>
</svg>
</body></html>
